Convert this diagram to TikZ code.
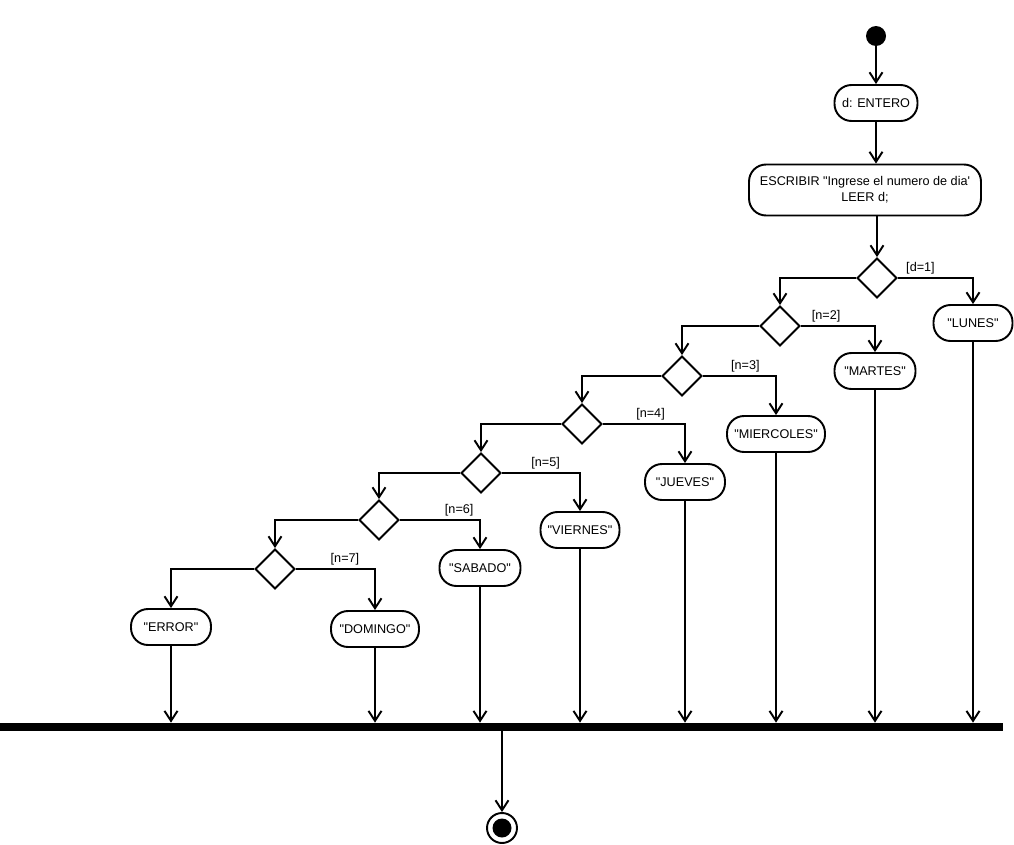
\documentclass[tikz,border=0pt]{standalone}
\usepackage{fontspec}
\usetikzlibrary{arrows.meta,shapes.geometric}
\newfontfamily\dgmfont{Liberation Sans}
\definecolor{inkline}{HTML}{000000}

\begin{document}
\begin{tikzpicture}[
  x=0.02cm, y=-0.02cm,
  font=\dgmfont\fontsize{7.2}{9}\selectfont,
  >={Straight Barb[length=2mm,width=2.6mm]},
  act/.style={rounded corners=0.34cm, draw=inkline, line width=1.1pt, fill=white,
              align=center, inner sep=2pt, minimum height=0.72cm, text=inkline},
  dec/.style={diamond, draw=inkline, line width=1.1pt, fill=white, inner sep=0pt,
              minimum width=0.8cm, minimum height=0.8cm},
  startdot/.style={circle, fill=inkline, inner sep=0pt, minimum size=0.4cm},
  stopdot/.style={circle, draw=inkline, line width=1.1pt, fill=white, inner sep=0pt, minimum size=0.6cm},
  bar/.style={rectangle, fill=inkline, inner sep=0pt, minimum width=20.06cm, minimum height=0.16cm},
  arr/.style={->, draw=inkline, line width=1.1pt},
  glab/.style={text=inkline, inner sep=1.5pt, above},
]
\useasboundingbox (0,0) rectangle (1014,845);

% ---- start and input ----
\node[startdot] (ini) at (876,36) {};
\node[act, minimum width=1.66cm] (ent) at (876,103) {d: ENTERO};
\node[act, minimum width=4.64cm, minimum height=1.02cm] (esc) at (865,190)
  {ESCRIBIR "Ingrese el numero de dia'\\LEER d;};

% ---- decisions ----
\node[dec] (d1) at (877,278) {};
\node[dec] (d2) at (780,326) {};
\node[dec] (d3) at (682,376) {};
\node[dec] (d4) at (582,424) {};
\node[dec] (d5) at (481,473) {};
\node[dec] (d6) at (379,520) {};
\node[dec] (d7) at (275,569) {};

% ---- outputs ----
\node[act, minimum width=1.58cm] (lunes)   at (973,323) {"LUNES"};
\node[act, minimum width=1.62cm] (martes)  at (875,371) {"MARTES"};
\node[act, minimum width=1.96cm] (mierc)   at (776,434) {"MIERCOLES"};
\node[act, minimum width=1.60cm] (jueves)  at (685,482) {"JUEVES"};
\node[act, minimum width=1.58cm] (viernes) at (580,530) {"VIERNES"};
\node[act, minimum width=1.62cm] (sabado)  at (480,568) {"SABADO"};
\node[act, minimum width=1.76cm] (domingo) at (375,629) {"DOMINGO"};
\node[act, minimum width=1.60cm] (error)   at (171,627) {"ERROR"};

% ---- join and end ----
\node[bar] (join) at (501.5,727) {};
\node[stopdot] (fin) at (502,828) {};
\node[startdot, minimum size=0.38cm] (finin) at (fin) {};

% ---- arrows ----
\draw[arr] (ini) -- (ent);
\draw[arr] (ent) -- (ent |- esc.north);
\draw[arr] (esc.south -| d1) -- (d1.north);

\draw[arr] (d1.east) -| (lunes.north)   node[glab, pos=0.15] {[d=1]};
\draw[arr] (d2.east) -| (martes.north)  node[glab, pos=0.17] {[n=2]};
\draw[arr] (d3.east) -| (mierc.north)   node[glab, pos=0.29] {[n=3]};
\draw[arr] (d4.east) -| (jueves.north)  node[glab, pos=0.29] {[n=4]};
\draw[arr] (d5.east) -| (viernes.north) node[glab, pos=0.28] {[n=5]};
\draw[arr] (d6.east) -| (sabado.north)  node[glab, pos=0.37] {[n=6]};
\draw[arr] (d7.east) -| (domingo.north) node[glab, pos=0.31] {[n=7]};

\draw[arr] (d1.west) -| (d2.north);
\draw[arr] (d2.west) -| (d3.north);
\draw[arr] (d3.west) -| (d4.north);
\draw[arr] (d4.west) -| (d5.north);
\draw[arr] (d5.west) -| (d6.north);
\draw[arr] (d6.west) -| (d7.north);
\draw[arr] (d7.west) -| (error.north);

\foreach \o in {error,domingo,sabado,viernes,jueves,mierc,martes,lunes}
  \draw[arr] (\o) -- (\o |- join.north);

\draw[arr] (join.south -| fin) -- (fin.north);

\end{tikzpicture}
\end{document}
